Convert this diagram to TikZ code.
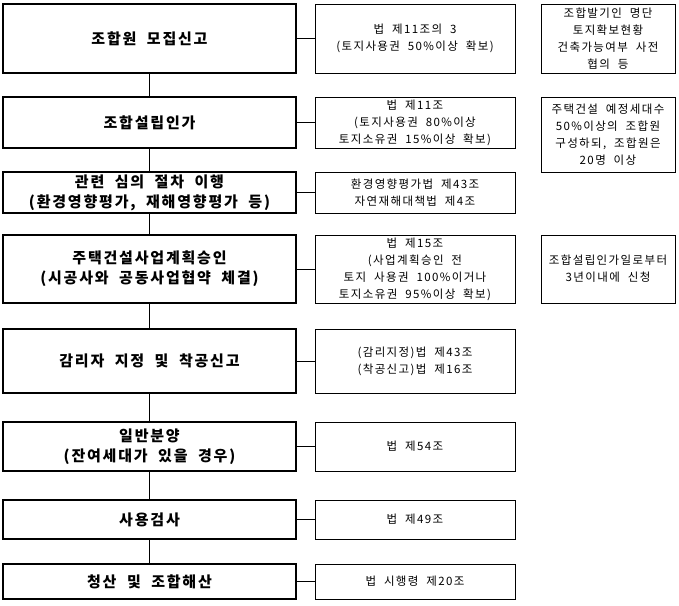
\documentclass[tikz,border=0pt]{standalone}
\usepackage{fontspec}
\setmainfont{Noto Sans CJK KR}[LetterSpace=12, WordSpace=2]
\usepackage{tikz}

\begin{document}
\begin{tikzpicture}[
x=1pt, y=-1pt,
stage/.style={rectangle, draw, line width=2.4pt, minimum width=293pt, inner sep=0pt, align=center, font=\bfseries\fontsize{15}{20}\selectfont},
law/.style={rectangle, draw, line width=0.9pt, minimum width=200pt, inner sep=0pt, align=center, font=\fontsize{11.5}{17}\selectfont},
note/.style={law, minimum width=134pt},
link/.style={line width=0.9pt},
]
\useasboundingbox (0,0) rectangle (679,605);

\node[stage, minimum height=69pt] (s1) at (149.5,38.5) {조합원 모집신고};
\node[stage, minimum height=51pt] (s2) at (149.5,122.5) {조합설립인가};
\node[stage, minimum height=41pt] (s3) at (149.5,192.5) {관련 심의 절차 이행\\(환경영향평가, 재해영향평가 등)};
\node[stage, minimum height=68pt] (s4) at (149.5,269) {주택건설사업계획승인\\(시공사와 공동사업협약 체결)};
\node[stage, minimum height=64pt] (s5) at (149.5,361) {감리자 지정 및 착공신고};
\node[stage, minimum height=49pt] (s6) at (149.5,446.5) {일반분양\\(잔여세대가 있을 경우)};
\node[stage, minimum height=39pt] (s7) at (149.5,519.5) {사용검사};
\node[stage, minimum height=35pt] (s8) at (149.5,581.5) {청산 및 조합해산};

\node[law, minimum height=69pt] (l1) at (415,38.5) {법 제11조의 3\\(토지사용권 50\%이상 확보)};
\node[law, minimum height=51pt] (l2) at (415,122.5) {법 제11조\\(토지사용권 80\%이상\\토지소유권 15\%이상 확보)};
\node[law, minimum height=41pt] (l3) at (415,192.5) {환경영향평가법 제43조\\자연재해대책법 제4조};
\node[law, minimum height=68pt] (l4) at (415,269) {법 제15조\\(사업계획승인 전\\토지 사용권 100\%이거나\\토지소유권 95\%이상 확보)};
\node[law, minimum height=64pt] (l5) at (415,361) {(감리지정)법 제43조\\(착공신고)법 제16조};
\node[law, minimum height=49pt] (l6) at (415,446.5) {법 제54조};
\node[law, minimum height=39pt] (l7) at (415,519.5) {법 제49조};
\node[law, minimum height=35pt] (l8) at (415,581.5) {법 시행령 제20조};

\node[note, minimum height=69pt] (n1) at (608,38.5) {조합발기인 명단\\토지확보현황\\건축가능여부 사전\\협의 등};
\node[note, minimum height=75pt] (n2) at (608,134.5) {주택건설 예정세대수\\50\%이상의 조합원\\구성하되, 조합원은\\20명 이상};
\node[note, minimum height=68pt] (n4) at (608,269) {조합설립인가일로부터\\3년이내에 신청};

\path[link]
(s1) edge (s2)
(s2) edge (s3)
(s3) edge (s4)
(s4) edge (s5)
(s5) edge (s6)
(s6) edge (s7)
(s7) edge (s8)
(s1) edge (l1)
(s2) edge (l2)
(s3) edge (l3)
(s4) edge (l4)
(s5) edge (l5)
(s6) edge (l6)
(s7) edge (l7)
(s8) edge (l8)
;
\end{tikzpicture}
\end{document}
